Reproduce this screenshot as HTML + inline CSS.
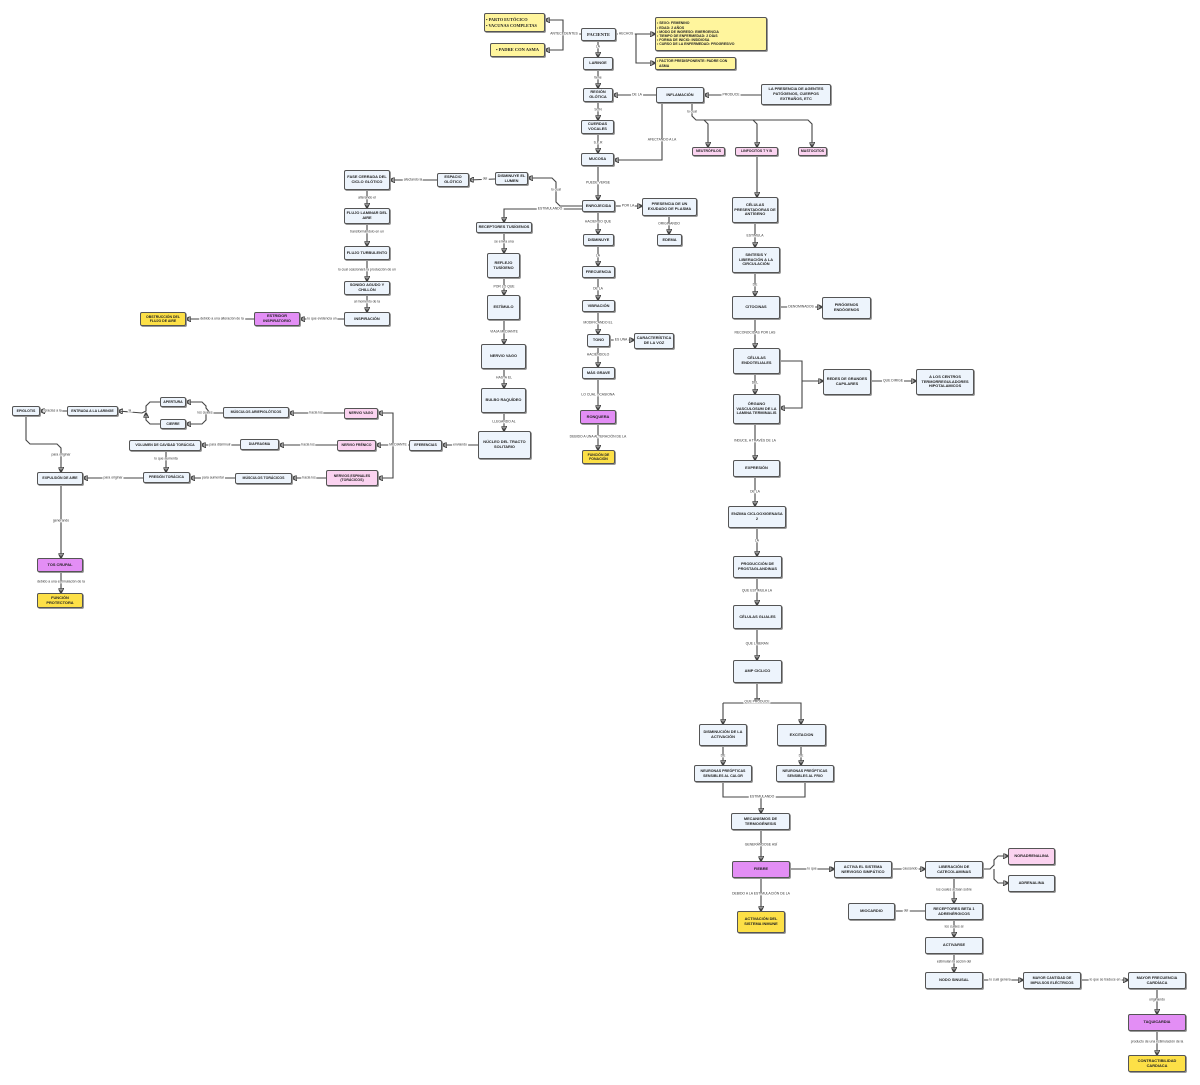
<!DOCTYPE html>
<html><head><meta charset="utf-8"><style>
html,body{margin:0;padding:0;background:#fff;}
#c{position:relative;width:1200px;height:1085px;overflow:hidden;font-family:"Liberation Sans",sans-serif;}
.n{position:absolute;box-sizing:border-box;border:1.3px solid #555;border-radius:2px;background:#edf4fc;box-shadow:1px 1px 0 #999;display:flex;align-items:center;justify-content:center;text-align:center;font-size:3.9px;font-weight:bold;line-height:1.2;color:#222;padding:0 1px;overflow:hidden;}
.y{background:#fff59d}.Y{background:#fde047}.p{background:#fbd3f0}.P{background:#e38ef5}
.l{position:absolute;transform:translate(-50%,-50%);background:#fff;font-size:3.4px;color:#333;white-space:nowrap;padding:0 1px;line-height:1;}
svg{position:absolute;left:0;top:0}
svg polyline,svg path{fill:none;stroke:#444;stroke-width:1.1}
</style></head><body><div id="c">
<svg width="1200" height="1085">
<defs><marker id="a" markerWidth="5" markerHeight="5" refX="4.5" refY="2.5" orient="auto"><path d="M0,0L5,2.5L0,5z" fill="#222" stroke="none"/></marker></defs>
<g marker-end="url(#a)">
<polyline points="581,34 563,34 563,20 545,20"/><polyline points="563,34 563,50 545,50"/>
<polyline points="616,34 655,34"/><polyline points="636,34 636,63 655,63"/>
<polyline points="598,41 598,57"/><polyline points="598,70 598,88"/>
<polyline points="656,95 613,95"/><polyline points="761,95 704,95"/>
<polyline points="598,102 598,120"/><polyline points="598,134 598,153"/>
<polyline points="662,103 662,160 614,160"/>
<polyline points="692,103 692,116 696,120 704,120 708,124 708,147"/>
<polyline points="696,120 753,120 757,124 757,147"/>
<polyline points="753,120 808,120 812,124 812,147"/>
<polyline points="757,156 757,197"/>
<polyline points="598,166 598,200"/>
<polyline points="582,206 560,206 556,202 556,182 552,178 528,178"/>
<polyline points="495,179 469,180"/><polyline points="437,180 390,180"/>
<polyline points="582,209 504,209 504,222"/>
<polyline points="615,206 642,206"/><polyline points="669,216 669,234"/>
<polyline points="598,212 598,234"/><polyline points="598,246 598,266"/>
<polyline points="598,278 598,300"/><polyline points="598,312 598,334"/>
<polyline points="610,340 634,340"/><polyline points="598,347 598,367"/>
<polyline points="598,379 598,410"/><polyline points="598,424 598,450"/>
<polyline points="504,233 504,253"/><polyline points="504,278 504,295"/>
<polyline points="504,320 504,344"/><polyline points="504,369 504,388"/>
<polyline points="504,413 504,431"/><polyline points="478,445 442,445"/>
<polyline points="409,445 376,445"/><polyline points="393,445 393,413 378,413"/><polyline points="393,445 393,478 378,478"/>
<polyline points="344,413 289,413"/>
<polyline points="223,413 210,413 206,408 206,406 202,402 186,402"/><polyline points="206,413 206,420 202,424 186,424"/>
<polyline points="160,402 150,402 146,406 146,411 142,413 118,411"/><polyline points="160,424 150,424 146,420 146,413"/>
<polyline points="67,411 40,411"/>
<polyline points="26,416 26,440 30,444 57,444 61,448 61,472"/>
<polyline points="337,445 279,445"/><polyline points="240,445 201,445"/>
<polyline points="166,451 166,472"/><polyline points="326,478 292,478"/>
<polyline points="235,478 190,478"/><polyline points="143,478 83,478"/>
<polyline points="61,485 61,558"/><polyline points="61,572 61,593"/>
<polyline points="367,190 367,208"/><polyline points="367,224 367,246"/>
<polyline points="367,260 367,281"/><polyline points="367,295 367,312"/>
<polyline points="344,319 300,319"/><polyline points="254,319 186,319"/>
<polyline points="755,223 755,247"/><polyline points="755,273 755,296"/>
<polyline points="780,307 822,307"/><polyline points="755,319 755,348"/>
<polyline points="755,374 755,394"/>
<polyline points="780,361 802,361 802,408 780,408"/><polyline points="802,381 823,381"/>
<polyline points="871,381 916,381"/>
<polyline points="755,424 755,460"/><polyline points="755,477 755,506"/>
<polyline points="757,528 757,556"/><polyline points="757,578 757,605"/>
<polyline points="757,629 757,660"/>
<polyline points="757,683 757,703"/>
<polyline points="723,703 723,724"/><polyline points="723,703 801,703 801,724"/>
<polyline points="723,746 723,765"/><polyline points="801,746 801,765"/>
<polyline points="761,797 761,813"/>
<polyline points="830,869 834,869"/>
<polyline points="761,830 761,861"/><polyline points="761,878 761,911"/>
<polyline points="790,869 834,869"/><polyline points="892,869 925,869"/>
<polyline points="983,869 990,869 994,865 994,860 998,856 1008,856"/><polyline points="994,869 994,879 998,883 1008,883"/>
<polyline points="954,878 954,903"/>
<polyline points="954,920 954,937"/><polyline points="954,954 954,972"/>
<polyline points="983,980 1023,980"/><polyline points="1081,980 1128,980"/>
<polyline points="1157,989 1157,1014"/><polyline points="1157,1031 1157,1055"/>
</g>
<polyline points="723,782 723,797 805,797 805,782"/>
<polyline points="895,911 925,911"/>
</svg>

<div class="n y" style="left:484px;top:13px;width:61px;height:19px;justify-content:flex-start;text-align:left;font-family:'Liberation Serif',serif;font-size:4.3px">• PARTO EUTÓCICO<br>• VACUNAS COMPLETAS</div>
<div class="n y" style="left:490px;top:43px;width:55px;height:14px;font-family:'Liberation Serif',serif;font-size:4.5px">• PADRE CON ASMA</div>
<div class="n" style="left:581px;top:28px;width:35px;height:13px;font-family:'Liberation Serif',serif;font-size:4.5px">PACIENTE</div>
<div class="n y" style="left:655px;top:17px;width:112px;height:34px;justify-content:flex-start;text-align:left;font-size:3.5px">• SEXO: FEMENINO<br>• EDAD: 2 AÑOS<br>• MODO DE INGRESO: EMERGENCIA<br>• TIEMPO DE ENFERMEDAD: 2 DÍAS<br>• FORMA DE INICIO: INSIDIOSA<br>• CURSO DE LA ENFERMEDAD: PROGRESIVO</div>
<div class="n y" style="left:655px;top:57px;width:81px;height:13px;justify-content:flex-start;text-align:left;font-size:3.5px">• FACTOR PREDISPONENTE: PADRE CON<br>&nbsp;&nbsp;ASMA</div>
<div class="n" style="left:583px;top:57px;width:30px;height:13px">LARINGE</div>
<div class="n" style="left:583px;top:88px;width:30px;height:14px">REGIÓN GLÓTICA</div>
<div class="n" style="left:656px;top:87px;width:48px;height:16px">INFLAMACIÓN</div>
<div class="n" style="left:761px;top:84px;width:70px;height:21px">LA PRESENCIA DE AGENTES PATÓGENOS, CUERPOS EXTRAÑOS, ETC</div>
<div class="n" style="left:581px;top:120px;width:33px;height:14px">CUERDAS VOCALES</div>
<div class="n p" style="left:692px;top:147px;width:33px;height:9px;font-size:3.5px">NEUTRÓFILOS</div>
<div class="n p" style="left:735px;top:147px;width:43px;height:9px;font-size:3.5px">LINFOCITOS T Y B</div>
<div class="n p" style="left:798px;top:147px;width:29px;height:9px;font-size:3.5px">MASTOCITOS</div>
<div class="n" style="left:581px;top:153px;width:33px;height:13px">MUCOSA</div>
<div class="n" style="left:495px;top:172px;width:33px;height:13px">DISMINUYE EL LUMEN</div>
<div class="n" style="left:437px;top:173px;width:32px;height:14px">ESPACIO GLÓTICO</div>
<div class="n" style="left:344px;top:170px;width:46px;height:20px">FASE CERRADA DEL CICLO GLÓTICO</div>
<div class="n" style="left:582px;top:200px;width:33px;height:12px">ENROJECIDA</div>
<div class="n" style="left:642px;top:198px;width:55px;height:18px">PRESENCIA DE UN EXUDADO DE PLASMA</div>
<div class="n" style="left:476px;top:222px;width:56px;height:11px">RECEPTORES TUSÍGENOS</div>
<div class="n" style="left:583px;top:234px;width:31px;height:12px">DISMINUYE</div>
<div class="n" style="left:657px;top:234px;width:25px;height:12px">EDEMA</div>
<div class="n" style="left:344px;top:208px;width:46px;height:16px">FLUJO LAMINAR DEL AIRE</div>
<div class="n" style="left:344px;top:246px;width:46px;height:14px">FLUJO TURBULENTO</div>
<div class="n" style="left:487px;top:253px;width:33px;height:25px">REFLEJO TUSÍGENO</div>
<div class="n" style="left:582px;top:266px;width:33px;height:12px">FRECUENCIA</div>
<div class="n" style="left:344px;top:281px;width:46px;height:14px">SONIDO AGUDO Y CHILLÓN</div>
<div class="n" style="left:487px;top:295px;width:33px;height:25px">ESTÍMULO</div>
<div class="n" style="left:582px;top:300px;width:33px;height:12px">VIBRACIÓN</div>
<div class="n" style="left:344px;top:312px;width:46px;height:14px">INSPIRACIÓN</div>
<div class="n P" style="left:254px;top:312px;width:46px;height:14px">ESTRIDOR INSPIRATORIO</div>
<div class="n Y" style="left:140px;top:312px;width:46px;height:14px;font-size:3.5px">OBSTRUCCIÓN DEL FLUJO DE AIRE</div>
<div class="n" style="left:587px;top:334px;width:23px;height:13px">TONO</div>
<div class="n" style="left:634px;top:333px;width:40px;height:16px">CARACTERÍSTICA DE LA VOZ</div>
<div class="n" style="left:481px;top:344px;width:45px;height:25px">NERVIO VAGO</div>
<div class="n" style="left:582px;top:367px;width:33px;height:12px">MÁS GRAVE</div>
<div class="n" style="left:481px;top:388px;width:45px;height:25px">BULBO RAQUÍDEO</div>
<div class="n P" style="left:580px;top:410px;width:36px;height:14px">RONQUERA</div>
<div class="n" style="left:478px;top:431px;width:53px;height:28px">NÚCLEO DEL TRACTO SOLITARIO</div>
<div class="n Y" style="left:582px;top:450px;width:33px;height:14px;font-size:3.5px">FUNCIÓN DE FONACIÓN</div>
<div class="n" style="left:160px;top:397px;width:26px;height:10px;font-size:3.5px">APERTURA</div>
<div class="n" style="left:160px;top:419px;width:26px;height:10px;font-size:3.5px">CIERRE</div>
<div class="n" style="left:12px;top:406px;width:28px;height:10px;font-size:3.5px">EPIGLOTIS</div>
<div class="n" style="left:67px;top:406px;width:51px;height:10px;font-size:3.5px">ENTRADA A LA LARINGE</div>
<div class="n" style="left:223px;top:407px;width:66px;height:11px;font-size:3.5px">MÚSCULOS ARIEPIGLÓTICOS</div>
<div class="n p" style="left:344px;top:408px;width:34px;height:11px;font-size:3.5px">NERVIO VAGO</div>
<div class="n" style="left:129px;top:440px;width:72px;height:11px;font-size:3.5px">VOLUMEN DE CAVIDAD TORÁCICA</div>
<div class="n" style="left:240px;top:439px;width:39px;height:11px;font-size:3.5px">DIAFRAGMA</div>
<div class="n p" style="left:337px;top:440px;width:39px;height:11px;font-size:3.5px">NERVIO FRÉNICO</div>
<div class="n" style="left:409px;top:440px;width:33px;height:11px;font-size:3.5px">EFERENCIAS</div>
<div class="n" style="left:37px;top:472px;width:46px;height:13px;font-size:3.5px">EXPULSIÓN DE AIRE</div>
<div class="n" style="left:143px;top:472px;width:47px;height:11px;font-size:3.5px">PRESIÓN TORÁCICA</div>
<div class="n" style="left:235px;top:473px;width:57px;height:11px;font-size:3.5px">MÚSCULOS TORÁCICOS</div>
<div class="n p" style="left:326px;top:470px;width:52px;height:16px;font-size:3.5px">NERVIOS ESPINALES (TORÁCICOS)</div>
<div class="n P" style="left:37px;top:558px;width:46px;height:14px">TOS CRUPAL</div>
<div class="n Y" style="left:37px;top:593px;width:46px;height:15px">FUNCIÓN PROTECTORA</div>
<div class="n" style="left:732px;top:197px;width:46px;height:26px">CÉLULAS PRESENTADORAS DE ANTÍGENO</div>
<div class="n" style="left:732px;top:247px;width:48px;height:26px">SINTESIS Y LIBERACIÓN A LA CIRCULACIÓN</div>
<div class="n" style="left:732px;top:296px;width:48px;height:23px">CITOCINAS</div>
<div class="n" style="left:822px;top:297px;width:49px;height:22px">PIRÓGENOS ENDÓGENOS</div>
<div class="n" style="left:733px;top:348px;width:47px;height:26px">CÉLULAS ENDOTELIALES</div>
<div class="n" style="left:823px;top:369px;width:48px;height:26px">REDES DE GRANDES CAPILARES</div>
<div class="n" style="left:916px;top:369px;width:58px;height:26px">A LOS CENTROS TERMORREGULADORES HIPOTALAMICOS</div>
<div class="n" style="left:733px;top:394px;width:47px;height:30px">ÓRGANO VASCULOSUM DE LA LAMINA TERMINALIS</div>
<div class="n" style="left:733px;top:460px;width:47px;height:17px">EXPRESIÓN</div>
<div class="n" style="left:728px;top:506px;width:58px;height:22px">ENZIMA CICLOOXIGENASA 2</div>
<div class="n" style="left:733px;top:556px;width:49px;height:22px">PRODUCCIÓN DE PROSTAGLANDINAS</div>
<div class="n" style="left:733px;top:605px;width:49px;height:24px">CÉLULAS GLIALES</div>
<div class="n" style="left:733px;top:660px;width:49px;height:23px">AMP CICLICO</div>
<div class="n" style="left:699px;top:724px;width:48px;height:22px">DISMINUCIÓN DE LA ACTIVACIÓN</div>
<div class="n" style="left:777px;top:724px;width:49px;height:22px">EXCITACION</div>
<div class="n" style="left:694px;top:765px;width:58px;height:17px;font-size:3.6px">NEURONAS PREÓPTICAS SENSIBLES AL CALOR</div>
<div class="n" style="left:776px;top:765px;width:58px;height:17px;font-size:3.6px">NEURONAS PREÓPTICAS SENSIBLES AL FRIO</div>
<div class="n" style="left:731px;top:813px;width:59px;height:17px">MECANISMOS DE TERMOGÉNESIS</div>
<div class="n P" style="left:732px;top:861px;width:58px;height:17px">FIEBRE</div>
<div class="n Y" style="left:737px;top:911px;width:48px;height:22px">ACTIVACIÓN DEL SISTEMA INMUNE</div>
<div class="n" style="left:834px;top:861px;width:58px;height:17px">ACTIVA EL SISTEMA NERVIOSO SIMPÁTICO</div>
<div class="n" style="left:925px;top:861px;width:58px;height:17px">LIBERACIÓN DE CATECOLAMINAS</div>
<div class="n p" style="left:1008px;top:848px;width:47px;height:17px">NORADRENALINA</div>
<div class="n" style="left:1008px;top:875px;width:47px;height:17px">ADRENALINA</div>
<div class="n" style="left:848px;top:903px;width:47px;height:17px">MIOCARDIO</div>
<div class="n" style="left:925px;top:903px;width:58px;height:17px">RECEPTORES BETA 1 ADRENÉRGICOS</div>
<div class="n" style="left:925px;top:937px;width:58px;height:17px">ACTIVARSE</div>
<div class="n" style="left:925px;top:972px;width:58px;height:17px">NODO SINUSAL</div>
<div class="n" style="left:1023px;top:972px;width:58px;height:17px;font-size:3.6px">MAYOR CANTIDAD DE IMPULSOS ELÉCTRICOS</div>
<div class="n" style="left:1128px;top:972px;width:58px;height:17px">MAYOR FRECUENCIA CARDÍACA</div>
<div class="n P" style="left:1128px;top:1014px;width:58px;height:17px">TAQUICARDIA</div>
<div class="n Y" style="left:1128px;top:1055px;width:58px;height:17px">CONTRACTIBILIDAD CARDIACA</div>

<span class="l" style="left:564px;top:34px">ANTECEDENTES</span>
<span class="l" style="left:626px;top:34px">HECHOS</span>
<span class="l" style="left:598px;top:47px">LA</span>
<span class="l" style="left:598px;top:78px">tiene</span>
<span class="l" style="left:637px;top:95px">DE LA</span>
<span class="l" style="left:731px;top:95px">PRODUCE</span>
<span class="l" style="left:598px;top:110px">SON</span>
<span class="l" style="left:598px;top:143px">S.E.R</span>
<span class="l" style="left:662px;top:140px">AFECTANDO A LA</span>
<span class="l" style="left:692px;top:112px">lo cual</span>
<span class="l" style="left:598px;top:183px">PUEDE VERSE</span>
<span class="l" style="left:556px;top:190px">lo cual</span>
<span class="l" style="left:485px;top:179px">del</span>
<span class="l" style="left:413px;top:180px">afectando la</span>
<span class="l" style="left:550px;top:209px">ESTIMULANDO</span>
<span class="l" style="left:628px;top:206px">POR LA</span>
<span class="l" style="left:669px;top:224px">ORIGINANDO</span>
<span class="l" style="left:598px;top:222px">HACIENDO QUE</span>
<span class="l" style="left:598px;top:256px">LA</span>
<span class="l" style="left:598px;top:289px">DE LA</span>
<span class="l" style="left:598px;top:323px">MODIFICANDO EL</span>
<span class="l" style="left:621px;top:340px">ES UNA</span>
<span class="l" style="left:598px;top:355px">HACIÉNDOLO</span>
<span class="l" style="left:598px;top:395px">LO CUAL OCASIONA</span>
<span class="l" style="left:598px;top:437px">DEBIDO A UNA ALTERACIÓN DE LA</span>
<span class="l" style="left:504px;top:242px">se envía una</span>
<span class="l" style="left:504px;top:287px">POR LO QUE</span>
<span class="l" style="left:504px;top:332px">VIAJA MEDIANTE</span>
<span class="l" style="left:504px;top:378px">HASTA EL</span>
<span class="l" style="left:504px;top:422px">LLEGANDO AL</span>
<span class="l" style="left:460px;top:445px">enviando</span>
<span class="l" style="left:398px;top:445px">MEDIANTE</span>
<span class="l" style="left:316px;top:413px">hacia los</span>
<span class="l" style="left:205px;top:413px">los cuales</span>
<span class="l" style="left:130px;top:411px">la</span>
<span class="l" style="left:53px;top:411px">gracias a la</span>
<span class="l" style="left:61px;top:455px">para originar</span>
<span class="l" style="left:308px;top:445px">hacia los</span>
<span class="l" style="left:220px;top:445px">para disminuir</span>
<span class="l" style="left:166px;top:459px">lo que aumenta</span>
<span class="l" style="left:309px;top:478px">hacia los</span>
<span class="l" style="left:213px;top:478px">para aumentar</span>
<span class="l" style="left:113px;top:478px">para originar</span>
<span class="l" style="left:61px;top:521px">generando</span>
<span class="l" style="left:61px;top:582px">debido a una estimulación de la</span>
<span class="l" style="left:367px;top:198px">alterando el</span>
<span class="l" style="left:367px;top:232px">transformándolo en un</span>
<span class="l" style="left:367px;top:270px">lo cual ocasionará la producción de un</span>
<span class="l" style="left:367px;top:302px">al momento de la</span>
<span class="l" style="left:322px;top:319px">lo que evidencia un</span>
<span class="l" style="left:222px;top:319px">debido a una alteración de la</span>
<span class="l" style="left:755px;top:236px">ESTIMULA</span>
<span class="l" style="left:755px;top:285px">DE</span>
<span class="l" style="left:801px;top:307px">DENOMINADOS</span>
<span class="l" style="left:755px;top:333px">RECONOCIDAS POR LAS</span>
<span class="l" style="left:755px;top:383px">DEL</span>
<span class="l" style="left:893px;top:381px">QUE DIRIGE</span>
<span class="l" style="left:755px;top:441px">INDUCE, A TRAVÉS DE LA</span>
<span class="l" style="left:755px;top:492px">DE LA</span>
<span class="l" style="left:757px;top:541px">LA</span>
<span class="l" style="left:757px;top:591px">QUE ESTIMULA LA</span>
<span class="l" style="left:757px;top:644px">QUE LIBERAN</span>
<span class="l" style="left:757px;top:702px">QUE PRODUCE</span>
<span class="l" style="left:723px;top:756px">DE</span>
<span class="l" style="left:801px;top:756px">DE</span>
<span class="l" style="left:762px;top:797px">ESTIMULANDO</span>
<span class="l" style="left:761px;top:845px">GENERÁNDOSE ASÍ</span>
<span class="l" style="left:761px;top:894px">DEBIDO A LA ESTIMULACIÓN DE LA</span>
<span class="l" style="left:812px;top:869px">lo que</span>
<span class="l" style="left:910px;top:869px">causando</span>
<span class="l" style="left:954px;top:890px">los cuales actúan sobre</span>
<span class="l" style="left:906px;top:911px">del</span>
<span class="l" style="left:954px;top:927px">los cuales al</span>
<span class="l" style="left:954px;top:962px">estimulan la acción del</span>
<span class="l" style="left:1000px;top:980px">lo cual genera</span>
<span class="l" style="left:1105px;top:980px">lo que se traduce en</span>
<span class="l" style="left:1157px;top:1000px">originando</span>
<span class="l" style="left:1157px;top:1042px">producto de una estimulación de la</span>
</div></body></html>
